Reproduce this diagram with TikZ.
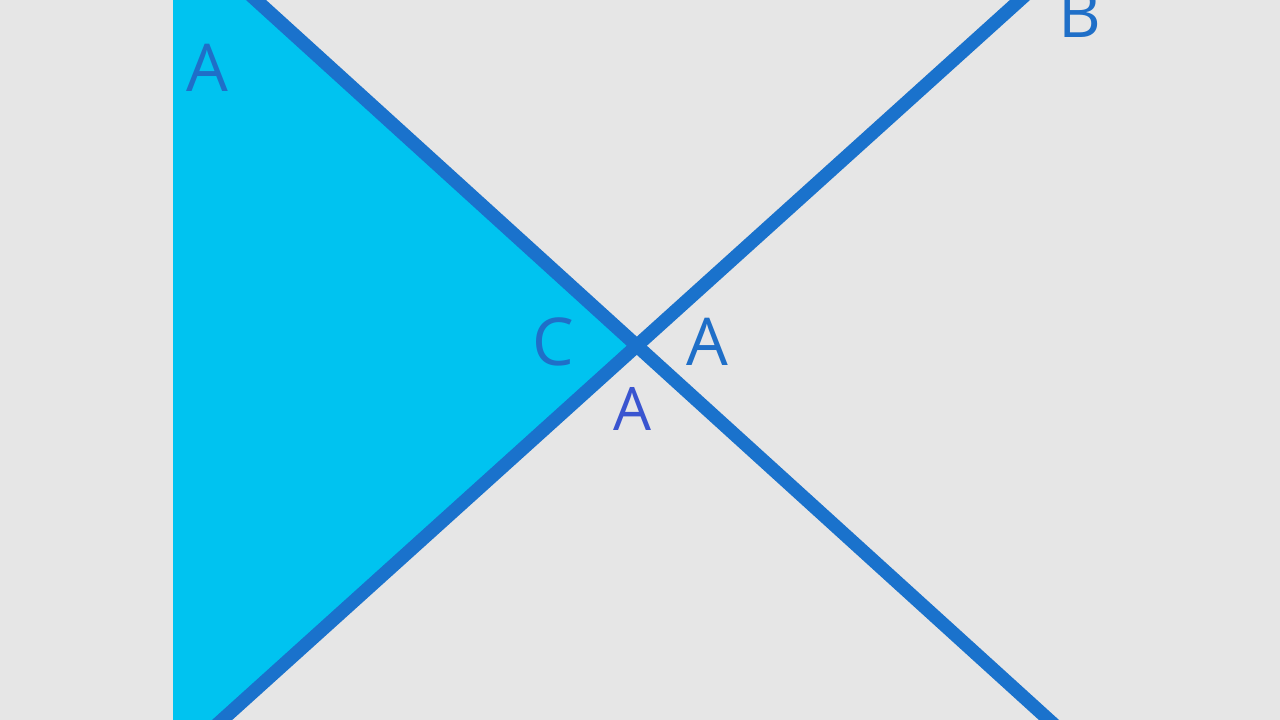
\documentclass[tikz,border=0pt]{standalone}
\usepackage{fontspec}
\setmainfont{Open Sans}
\definecolor{bgc}{HTML}{E6E6E6}
\definecolor{fillc}{HTML}{00C3F0}
\definecolor{linec}{HTML}{1A72CC}
\definecolor{labc}{HTML}{1F6FC8}
\definecolor{oddc}{HTML}{3A55D0}
\begin{document}
\begin{tikzpicture}[x=1pt,y=-1pt,
  lbl/.style={text=labc,font=\fontsize{66}{70}\selectfont,inner sep=0pt,anchor=center},
  ray/.style={draw=linec,line width=13.5pt}]
\fill[bgc] (0,0) rectangle (1280,720);
\useasboundingbox (0,0) rectangle (1280,720);
\coordinate (L1a) at (245,-10);
\coordinate (L1b) at (1060,730);
\coordinate (L2a) at (1031,-10);
\coordinate (L2b) at (211,730);
\coordinate (X) at (633,348);
\fill[fillc] (173,-10) -- (L1a) -- (X) -- (L2b) -- (173,730) -- cycle;
\draw[ray] (L1a) -- (L1b);
\draw[ray] (L2a) -- (L2b);
\node[lbl] (a1) at (207,68) {A};
\node[lbl] (b1) at (1080,14) {B};
\node[lbl] (c1) at (553,342) {C};
\node[lbl] (a2) at (707,342) {A};
\node[lbl,text=oddc,font=\fontsize{60}{64}\selectfont] (a3) at (632,409) {A};
\end{tikzpicture}
\end{document}
